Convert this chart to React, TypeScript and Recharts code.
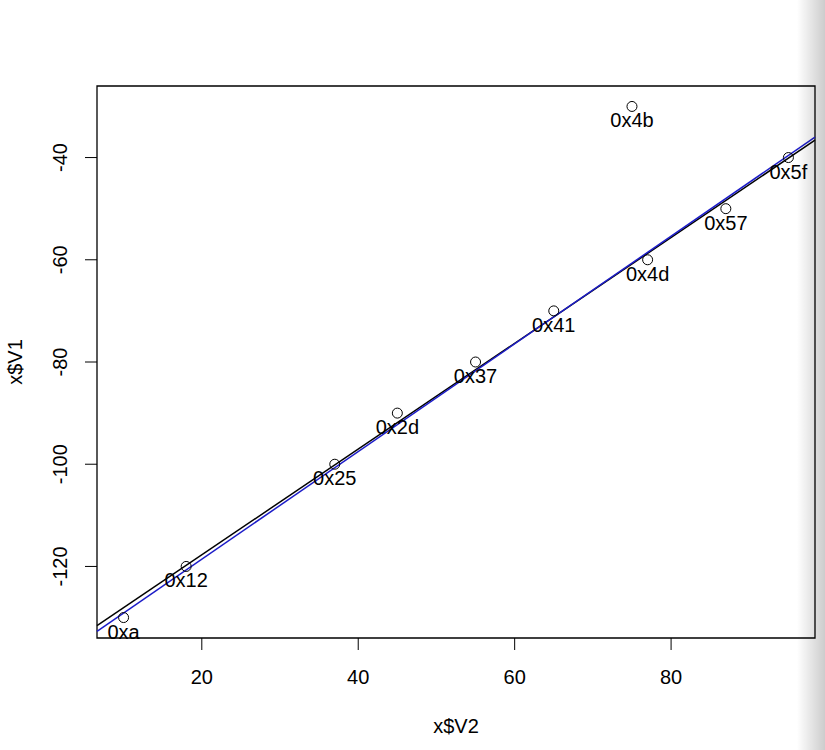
import React from "react";
import {
  ComposedChart,
  Scatter,
  XAxis,
  YAxis,
  ReferenceArea,
} from "recharts";

const xValues = [10, 18, 37, 45, 55, 65, 77, 87, 95, 75];
const yValues = [-130, -120, -100, -90, -80, -70, -60, -50, -40, -30];
const pointLabels = ["0xa", "0x12", "0x25", "0x2d", "0x37", "0x41", "0x4d", "0x57", "0x5f", "0x4b"];

const xTicks = [20, 40, 60, 80];
const yTicks = [-120, -100, -80, -60, -40];
const xDomain = [6.6, 98.4];
const yDomain = [-134, -26];

// fitted lines, read at the plot edges
const blackFitX = [6.6, 98.4];
const blackFitY = [-131.6, -36.6];
const blueFitX = [6.6, 98.4];
const blueFitY = [-132.7, -36.0];

const points = xValues.map((x, i) => ({ x, y: yValues[i], label: pointLabels[i] }));
const blackFit = blackFitX.map((x, i) => ({ x, y: blackFitY[i] }));
const blueFit = blueFitX.map((x, i) => ({ x, y: blueFitY[i] }));

const FONT = "'Liberation Sans', Arial, Helvetica, sans-serif";

function PointShape(props: any) {
  const { cx, cy, payload } = props;
  return (
    <g>
      <circle cx={cx} cy={cy} r={5} fill="none" stroke="#000" strokeWidth={1} />
      <text
        x={cx}
        y={cy + 21}
        textAnchor="middle"
        fontSize={20}
        fontFamily={FONT}
        fill="#000"
      >
        {payload.label}
      </text>
    </g>
  );
}

function XTick(props: any) {
  const { x, y, payload } = props;
  return (
    <text x={x} y={y + 32} textAnchor="middle" fontSize={20} fontFamily={FONT} fill="#000">
      {payload.value}
    </text>
  );
}

function YTick(props: any) {
  const { x, y, payload } = props;
  const tx = x - 16;
  return (
    <text
      x={tx}
      y={y}
      transform={`rotate(-90, ${tx}, ${y})`}
      textAnchor="middle"
      fontSize={20}
      fontFamily={FONT}
      fill="#000"
    >
      {payload.value}
    </text>
  );
}

const noShape = () => null;

export default function App() {
  return (
    <div style={{ position: "absolute", left: 0, top: 0, width: 825, height: 750, background: "#fff" }}>
      <ComposedChart
        width={825}
        height={750}
        margin={{ top: 86, right: 10, bottom: 0, left: 0 }}
      >
        <XAxis
          type="number"
          dataKey="x"
          domain={xDomain}
          ticks={xTicks}
          tick={<XTick />}
          tickSize={12}
          tickLine={{ stroke: "#000" }}
          axisLine={false}
          height={112}
        />
        <YAxis
          type="number"
          dataKey="y"
          domain={yDomain}
          ticks={yTicks}
          tick={<YTick />}
          tickSize={12}
          tickLine={{ stroke: "#000" }}
          axisLine={false}
          width={97}
        />
        <Scatter
          data={blackFit}
          line={{ stroke: "#000", strokeWidth: 1.5 }}
          shape={noShape}
          isAnimationActive={false}
        />
        <Scatter
          data={blueFit}
          line={{ stroke: "#1c1cc8", strokeWidth: 1.5 }}
          shape={noShape}
          isAnimationActive={false}
        />
        <Scatter data={points} shape={<PointShape />} isAnimationActive={false} />
        <ReferenceArea
          x1={xDomain[0]}
          x2={xDomain[1]}
          y1={yDomain[0]}
          y2={yDomain[1]}
          fill="none"
          fillOpacity={0}
          stroke="#000"
          strokeWidth={1.3}
          ifOverflow="visible"
        />
        <text x={456} y={733} textAnchor="middle" fontSize={20} fontFamily={FONT} fill="#000">
          x$V2
        </text>
        <text
          x={22}
          y={362}
          transform="rotate(-90, 22, 362)"
          textAnchor="middle"
          fontSize={20}
          fontFamily={FONT}
          fill="#000"
        >
          x$V1
        </text>
      </ComposedChart>
      <div
        style={{
          position: "absolute",
          right: 0,
          top: 0,
          width: 28,
          height: 750,
          pointerEvents: "none",
          background: "linear-gradient(to right, rgba(0,0,0,0), rgba(0,0,0,0.2))",
        }}
      />
    </div>
  );
}
